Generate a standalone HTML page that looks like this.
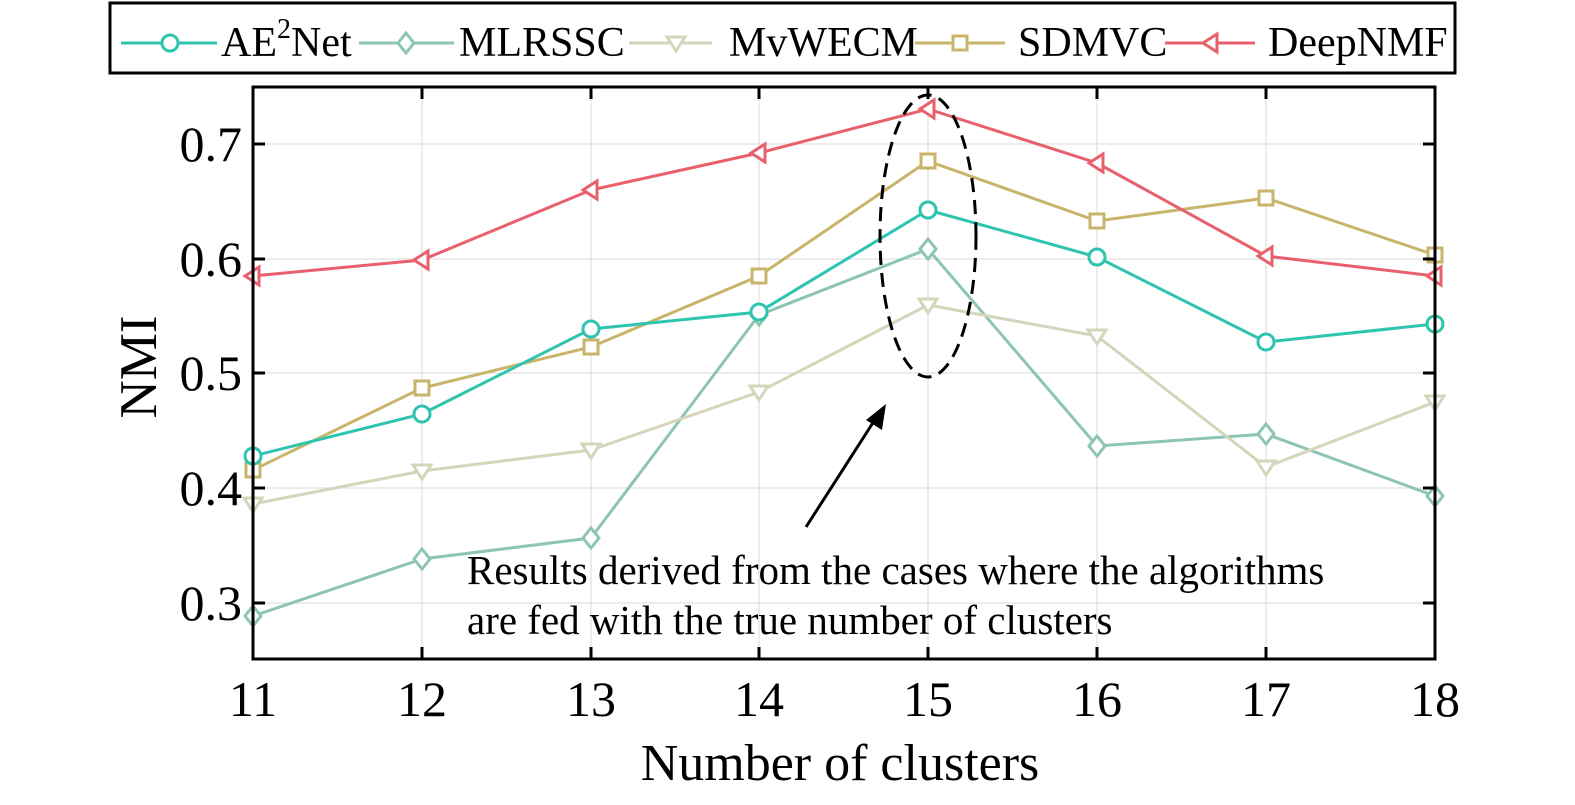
<!DOCTYPE html>
<html><head><style>body{margin:0;background:#fff}</style></head><body>
<svg width="1575" height="800" xmlns="http://www.w3.org/2000/svg" font-family="'Liberation Serif',serif">
<g stroke="#e0e0e0" stroke-width="1.2">
<line x1="422" y1="87" x2="422" y2="659"/><line x1="591" y1="87" x2="591" y2="659"/><line x1="759" y1="87" x2="759" y2="659"/><line x1="928" y1="87" x2="928" y2="659"/><line x1="1097" y1="87" x2="1097" y2="659"/><line x1="1266" y1="87" x2="1266" y2="659"/>
<line x1="253" y1="144" x2="1435" y2="144"/><line x1="253" y1="259" x2="1435" y2="259"/><line x1="253" y1="373" x2="1435" y2="373"/><line x1="253" y1="488" x2="1435" y2="488"/><line x1="253" y1="603" x2="1435" y2="603"/>
</g>
<g fill="none" stroke-width="3">
<g stroke="#8cc5b1"><polyline points="253,616 422,559 591,538 759,315 928,249 1097,446 1266,434 1435,496"/>
<g fill="#fff"><path d="M253,606 l8,10 -8,10 -8,-10z"/><path d="M422,549 l8,10 -8,10 -8,-10z"/><path d="M591,528 l8,10 -8,10 -8,-10z"/><path d="M759,305 l8,10 -8,10 -8,-10z"/><path d="M928,239 l8,10 -8,10 -8,-10z"/><path d="M1097,436 l8,10 -8,10 -8,-10z"/><path d="M1266,424 l8,10 -8,10 -8,-10z"/><path d="M1435,486 l8,10 -8,10 -8,-10z"/></g></g>
<g stroke="#d4d6bc"><polyline points="253,504 422,471 591,450 759,392 928,305 1097,336 1266,467 1435,402"/>
<g fill="#fff"><path d="M244,498 h18 l-9,14z"/><path d="M413,465 h18 l-9,14z"/><path d="M582,444 h18 l-9,14z"/><path d="M750,386 h18 l-9,14z"/><path d="M919,299 h18 l-9,14z"/><path d="M1088,330 h18 l-9,14z"/><path d="M1257,461 h18 l-9,14z"/><path d="M1426,396 h18 l-9,14z"/></g></g>
<g stroke="#c9b46c"><polyline points="253,470 422,388 591,347 759,276 928,161 1097,221 1266,198 1435,255"/>
<g fill="#fff"><rect x="246" y="463" width="14" height="14"/><rect x="415" y="381" width="14" height="14"/><rect x="584" y="340" width="14" height="14"/><rect x="752" y="269" width="14" height="14"/><rect x="921" y="154" width="14" height="14"/><rect x="1090" y="214" width="14" height="14"/><rect x="1259" y="191" width="14" height="14"/><rect x="1428" y="248" width="14" height="14"/></g></g>
<g stroke="#2ec4b0"><polyline points="253,456 422,414 591,329 759,312 928,210 1097,257 1266,342 1435,324"/>
<g fill="#fff"><circle cx="253" cy="456" r="8"/><circle cx="422" cy="414" r="8"/><circle cx="591" cy="329" r="8"/><circle cx="759" cy="312" r="8"/><circle cx="928" cy="210" r="8"/><circle cx="1097" cy="257" r="8"/><circle cx="1266" cy="342" r="8"/><circle cx="1435" cy="324" r="8"/></g></g>
<g stroke="#e8606c"><polyline points="253,276 422,260 591,190 759,153 928,109 1097,163 1266,256 1435,276"/>
<g fill="#fff"><path d="M245,276 l14,-9 v18z"/><path d="M414,260 l14,-9 v18z"/><path d="M583,190 l14,-9 v18z"/><path d="M751,153 l14,-9 v18z"/><path d="M920,109 l14,-9 v18z"/><path d="M1089,163 l14,-9 v18z"/><path d="M1258,256 l14,-9 v18z"/><path d="M1427,276 l14,-9 v18z"/></g></g>
</g>
<rect x="253" y="87" width="1182" height="572" fill="none" stroke="#000" stroke-width="3"/>
<g stroke="#000" stroke-width="3">
<path d="M422,659v-12M591,659v-12M759,659v-12M928,659v-12M1097,659v-12M1266,659v-12M422,87v12M591,87v12M759,87v12M928,87v12M1097,87v12M1266,87v12"/>
<path d="M253,144h12M253,259h12M253,373h12M253,488h12M253,603h12M1435,144h-12M1435,259h-12M1435,373h-12M1435,488h-12M1435,603h-12"/>
</g>
<ellipse cx="928" cy="236" rx="48" ry="141" fill="none" stroke="#000" stroke-width="3" stroke-dasharray="14,8"/>
<line x1="806" y1="527" x2="876" y2="418" stroke="#000" stroke-width="3"/>
<path d="M886,404 l-4,26 -16,-10z" fill="#000"/>
<g font-size="50" text-anchor="middle">
<text x="253" y="716">11</text><text x="422" y="716">12</text><text x="591" y="716">13</text><text x="759" y="716">14</text><text x="928" y="716">15</text><text x="1097" y="716">16</text><text x="1266" y="716">17</text><text x="1435" y="716">18</text>
</g>
<g font-size="50" text-anchor="end">
<text x="242" y="161">0.7</text><text x="242" y="276">0.6</text><text x="242" y="390">0.5</text><text x="242" y="505">0.4</text><text x="242" y="620">0.3</text>
</g>
<text x="840" y="780" font-size="52" text-anchor="middle">Number of clusters</text>
<text transform="translate(156,367) rotate(-90)" font-size="53" text-anchor="middle">NMI</text>
<text x="467" y="584" font-size="41">Results derived from the cases where the algorithms</text>
<text x="467" y="634" font-size="41">are fed with the true number of clusters</text>
<rect x="110" y="3" width="1345" height="70" fill="#fff" stroke="#000" stroke-width="3"/>
<g fill="none" stroke-width="3">
<line x1="121" y1="43" x2="217" y2="43" stroke="#2ec4b0"/><circle cx="170" cy="43" r="8" fill="#fff" stroke="#2ec4b0"/>
<line x1="359" y1="43" x2="454" y2="43" stroke="#8cc5b1"/><path d="M406,33 l8,10 -8,10 -8,-10z" fill="#fff" stroke="#8cc5b1"/>
<line x1="629" y1="43" x2="712" y2="43" stroke="#d4d6bc"/><path d="M667,37 h18 l-9,14z" fill="#fff" stroke="#d4d6bc"/>
<line x1="915" y1="43" x2="1005" y2="43" stroke="#c9b46c"/><rect x="953" y="36" width="14" height="14" fill="#fff" stroke="#c9b46c"/>
<line x1="1165" y1="43" x2="1255" y2="43" stroke="#e8606c"/><path d="M1203,43 l14,-9 v18z" fill="#fff" stroke="#e8606c"/>
</g>
<g font-size="42" fill="#000">
<text x="221" y="56">AE<tspan font-size="28" dy="-18">2</tspan><tspan dy="18">Net</tspan></text>
<text x="459" y="56">MLRSSC</text>
<text x="729" y="56">MvWECM</text>
<text x="1018" y="56">SDMVC</text>
<text x="1268" y="56">DeepNMF</text>
</g>
</svg>
</body></html>
